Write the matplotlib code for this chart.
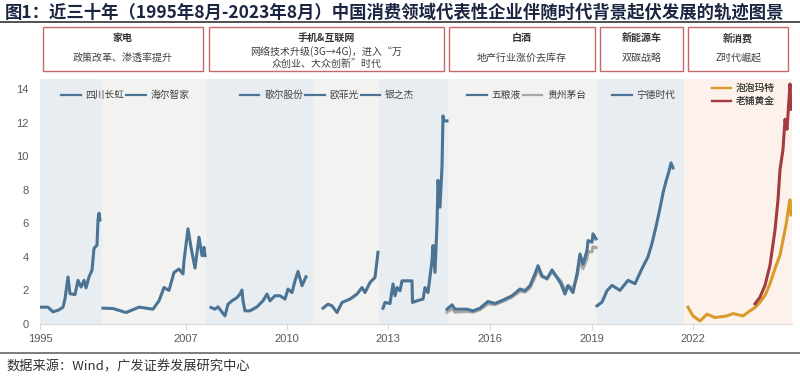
import matplotlib.pyplot as plt
from matplotlib.patches import Rectangle

plt.rcParams['font.family'] = ['Noto Sans CJK SC', 'DejaVu Sans']

# 横轴为拼接后的交易序号，每段对应一家代表性企业
TICK_POS = [0, 146, 247, 348, 450, 552, 653]
TICK_LABELS = ["1995", "2007", "2010", "2013", "2016", "2019", "2022"]
BANDS = [0, 62, 166, 273, 339, 408, 557, 644, 752]

changhong_x = [0, 8, 13, 19, 23, 25, 28, 30, 35, 38, 41, 44, 46, 49, 52, 54, 57, 58, 59, 60]
changhong_y = [1.0, 1.0, 0.72, 0.84, 1.0, 1.5, 2.8, 1.8, 1.75, 2.6, 2.2, 2.6, 2.15, 2.8, 3.2, 4.5, 4.7, 6.2, 6.6, 6.2]

haier_x = [63, 73, 86, 99, 113, 119, 124, 129, 134, 139, 143, 144, 148, 151, 155, 159, 162, 164, 165]
haier_y = [0.94, 0.92, 0.68, 1.0, 0.88, 1.38, 2.17, 2.0, 3.07, 3.27, 2.98, 3.77, 5.67, 4.57, 3.33, 5.17, 4.07, 4.57, 4.07]

goer_x = [171, 175, 178, 185, 188, 192, 197, 200, 202, 203, 205, 210, 217, 223, 227, 230, 235, 240, 245, 248, 252, 255, 258, 262, 266]
goer_y = [0.98, 0.88, 1.02, 0.48, 1.18, 1.38, 1.57, 1.78, 2.02, 1.38, 0.78, 0.78, 1.02, 1.38, 1.78, 1.38, 1.68, 1.68, 1.48, 2.08, 1.87, 2.57, 3.13, 2.28, 2.81]

ofilm_x = [283, 288, 292, 297, 302, 310, 317, 322, 325, 330, 335, 337, 338]
ofilm_y = [0.94, 1.18, 1.08, 0.68, 1.28, 1.48, 1.78, 2.17, 1.87, 2.47, 2.77, 3.77, 4.27]

yinzhijie_x = [343, 345, 350, 353, 355, 357, 360, 362, 372, 372.5, 377, 383, 385, 388, 392, 393, 395, 397, 398, 400, 402, 403, 404, 407]
yinzhijie_y = [0.94, 1.28, 1.22, 2.38, 1.68, 2.17, 1.98, 2.57, 2.57, 1.28, 1.38, 1.48, 2.17, 1.87, 3.77, 4.67, 3.07, 5.97, 8.56, 6.96, 9.36, 12.4, 12.1, 12.1]

baijiu_x = [407, 412, 415, 427, 433, 440, 448, 455, 463, 472, 480, 485, 490, 495, 498, 502, 507, 512, 517, 521, 525, 528, 533, 537, 540, 543, 547, 548, 552, 553, 556]
wuliangye_y = [0.88, 1.14, 0.88, 0.88, 0.78, 0.94, 1.34, 1.22, 1.42, 1.68, 2.08, 1.98, 2.28, 2.98, 3.47, 2.87, 2.68, 3.22, 2.77, 2.38, 1.78, 2.28, 1.87, 2.98, 4.17, 3.57, 4.37, 4.97, 4.87, 5.37, 5.07]
moutai_y = [0.7, 0.9, 0.7, 0.75, 0.7, 0.85, 1.2, 1.15, 1.35, 1.6, 1.95, 1.9, 2.15, 2.8, 3.25, 2.8, 2.75, 3.1, 2.8, 2.55, 2.0, 2.3, 2.1, 2.8, 3.8, 3.3, 3.9, 4.3, 4.3, 4.6, 4.55]

catl_x = [557, 562, 567, 572, 580, 588, 595, 602, 608, 612, 616, 620, 623, 626, 629, 631, 633]
catl_y = [1.08, 1.3, 1.98, 2.3, 2.0, 2.6, 2.4, 3.3, 4.0, 4.8, 5.8, 6.9, 7.8, 8.5, 9.1, 9.6, 9.3]

popmart_x = [648, 653, 660, 667, 675, 687, 693, 703, 710, 715, 720, 725, 730, 735, 740, 743, 746, 749, 750, 751]
popmart_y = [1.0, 0.48, 0.18, 0.58, 0.38, 0.48, 0.62, 0.48, 0.78, 0.98, 1.3, 1.7, 2.4, 3.3, 4.1, 5.0, 5.9, 7.1, 7.4, 6.5]

laopu_x = [715, 720, 725, 730, 735, 738, 740, 743, 745, 747, 749, 750, 751]
laopu_y = [1.2, 1.6, 2.3, 3.5, 5.6, 7.4, 9.2, 10.4, 12.2, 11.6, 13.4, 14.3, 12.8]

BOXES = [
    ("家电", "政策改革、渗透率提升"),
    ("手机&互联网", "网络技术升级(3G→4G)，进入“万\n众创业、大众创新”时代"),
    ("白酒", "地产行业涨价去库存"),
    ("新能源车", "双碳战略"),
    ("新消费", "Z时代崛起"),
]
BOX_X = [(43, 203), (209, 444), (449, 595), (600, 683), (688, 788)]

BLUE = '#4A7394'
band_colors = ['#E8EDF2', '#F2F2F0', '#E8EDF2', '#F2F2F0', '#E8EDF2', '#F2F2F0', '#E8EDF2', '#FCF2EB']

fig = plt.figure(figsize=(8, 3.78), dpi=100)
ax = fig.add_axes([0.05, 0.143, 0.94, 0.648])

for i, c in enumerate(band_colors):
    ax.axvspan(BANDS[i], BANDS[i + 1], color=c, lw=0, zorder=0)

lw = 2.2
l1, = ax.plot(changhong_x, changhong_y, color=BLUE, lw=lw, label='四川长虹')
l2, = ax.plot(haier_x, haier_y, color=BLUE, lw=lw, label='海尔智家')
l3, = ax.plot(goer_x, goer_y, color=BLUE, lw=lw, label='歌尔股份')
l4, = ax.plot(ofilm_x, ofilm_y, color=BLUE, lw=lw, label='欧菲光')
l5, = ax.plot(yinzhijie_x, yinzhijie_y, color=BLUE, lw=lw, label='银之杰')
l7, = ax.plot(baijiu_x, moutai_y, color='#A6A6A6', lw=lw, label='贵州茅台', zorder=2)
l6, = ax.plot(baijiu_x, wuliangye_y, color=BLUE, lw=lw, label='五粮液', zorder=3)
l8, = ax.plot(catl_x, catl_y, color=BLUE, lw=lw, label='宁德时代')
l9, = ax.plot(popmart_x, popmart_y, color='#D99A2B', lw=lw, label='泡泡玛特')
l10, = ax.plot(laopu_x, laopu_y, color='#A33B40', lw=lw, label='老铺黄金')

groups = [([l1, l2], 2, (0.028, 0.935)),
          ([l3, l4, l5], 3, (0.266, 0.935)),
          ([l6, l7], 2, (0.568, 0.935)),
          ([l8], 1, (0.761, 0.935)),
          ([l9, l10], 1, (0.893, 0.935))]
for handles, ncol, anchor in groups:
    leg = ax.legend(handles=handles, ncol=ncol, loc='center left', bbox_to_anchor=anchor,
                    frameon=False, fontsize=7, handlelength=2.0, handletextpad=0.5,
                    columnspacing=0.2, borderaxespad=0, borderpad=0, labelspacing=0.3)
    for h in leg.get_lines():
        h.set_linewidth(1.6)
    for t in leg.get_texts():
        t.set_color('#404040')
    ax.add_artist(leg)

ax.set_xlim(0, 752)
ax.set_ylim(0, 14.6)
ax.set_yticks(range(0, 15, 2))
ax.set_xticks(TICK_POS)
ax.set_xticklabels(TICK_LABELS, family=['Liberation Sans', 'DejaVu Sans'])
for lab in ax.get_yticklabels():
    lab.set_family(['Liberation Sans', 'DejaVu Sans'])
ax.tick_params(axis='y', length=0, labelsize=8, labelcolor='#595959', pad=8)
ax.tick_params(axis='x', length=4, color='#D9D9D9', labelsize=8, labelcolor='#595959', pad=3)
for s in ['top', 'right', 'left']:
    ax.spines[s].set_visible(False)
ax.spines['bottom'].set_color('#D9D9D9')

# 顶部标题与分隔线
fig.text(0.006, 0.966, "图1：近三十年（1995年8月-2023年8月）中国消费领域代表性企业伴随时代背景起伏发展的轨迹图景",
         fontsize=12.5, fontweight='bold', color='#1C2541', va='center', ha='left')
fig.add_artist(plt.Line2D([0, 1], [0.942, 0.942], color='#333333', lw=1.2))

# 各阶段背景说明框
for (title, sub), (x0, x1) in zip(BOXES, BOX_X):
    fig.add_artist(Rectangle((x0 / 800, 1 - 71 / 378), (x1 - x0) / 800, 44 / 378,
                             transform=fig.transFigure, facecolor='white',
                             edgecolor='#C46A6A', lw=1.0))
    xc = (x0 + x1) / 2 / 800
    fig.text(xc, 1 - 38 / 378, title, fontsize=7.2, fontweight='bold', ha='center', va='center', color='#333333')
    fig.text(xc, 1 - 57.5 / 378, sub, fontsize=7.2, ha='center', va='center', color='#404040',
             linespacing=1.15)

# 底部数据来源
fig.add_artist(plt.Line2D([0, 1], [1 - 353 / 378, 1 - 353 / 378], color='#666666', lw=1.2))
fig.text(0.008, 1 - 367 / 378, "数据来源：Wind，广发证券发展研究中心", fontsize=9.5, color='#333333',
         va='center', ha='left')

fig.savefig('out.png', dpi=100, facecolor='white')
